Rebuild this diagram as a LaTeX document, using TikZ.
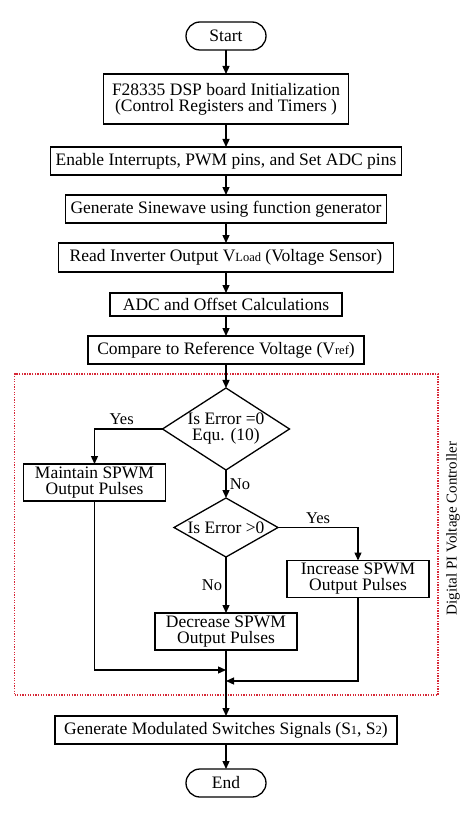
\documentclass[tikz,border=0pt]{standalone}
\usepackage{fontspec}
\setmainfont{Liberation Serif}
\usepackage{tikz}
\usetikzlibrary{arrows.meta, positioning, shapes.geometric, fit, calc}
\definecolor{CtrlRed}{RGB}{215, 40, 55}
\newcommand{\lowtxt}[1]{{\fontsize{12.5}{12}\selectfont #1}}
\tikzset{
  box/.style={rectangle, draw, line width=1.3pt, inner xsep=2pt, inner ysep=0.5pt, outer sep=0pt,
              minimum height=28pt, font=\fontsize{17.5}{16}\selectfont, align=center},
  term/.style={rectangle, rounded corners=14pt, draw, line width=1.3pt, inner ysep=0.5pt, outer sep=0pt,
               minimum width=80pt, minimum height=28pt, font=\fontsize{17.5}{16}\selectfont},
  decbox/.style={diamond, draw, line width=1.3pt, inner sep=-4pt, outer sep=0pt,
                 font=\fontsize{17.5}{16}\selectfont, align=center},
  arr/.style={-{Triangle[length=8pt, width=7pt]}, line width=1.3pt},
  lbl/.style={font=\fontsize{16.5}{16}\selectfont},
  grpbox/.style={rectangle, draw=#1, dash pattern=on 1.3pt off 1.3pt, line width=1.2pt},
}

\begin{document}
\begin{tikzpicture}
      \useasboundingbox (0,0) rectangle (474pt,-821pt);

      \node[term] (start) at (226pt,-36pt) {Start};
      \node[box, minimum width=245pt, minimum height=50pt, below=24pt of start] (init)
            {F28335 DSP board Initialization\\(Control Registers and Timers )};
      \node[box, minimum width=351pt, below=23pt of init] (enab)
            {Enable Interrupts, PWM pins, and Set ADC pins};
      \node[box, minimum width=321pt, below=20pt of enab] (sine)
            {Generate Sinewave using function generator};
      \node[box, minimum width=335pt, minimum height=29pt, below=20pt of sine] (read)
            {Read Inverter Output V\lowtxt{Load} (Voltage Sensor)};
      \node[box, minimum width=232pt, minimum height=23pt, below=21pt of read] (adc)
            {ADC and Offset Calculations};
      \node[box, minimum width=276pt, below=20pt of adc] (cmp)
            {Compare to Reference Voltage (V\lowtxt{ref})};

      % PI controller decisions
      \node[decbox, aspect=1.55, minimum width=127pt, minimum height=82pt,
            below=24pt of cmp] (err0) {Is Error =0\\Equ. (10)};
      \node[decbox, aspect=1.8, minimum width=104pt, minimum height=59pt,
            below=28pt of err0] (errp) {Is Error >0};
      \node[box, minimum width=142pt, minimum height=37pt,
            below left=35pt and -3pt of err0.west] (keep) {Maintain SPWM\\Output Pulses};
      \node[box, minimum width=142pt, minimum height=37pt,
            below right=33pt and 9pt of errp.east] (inc) {Increase SPWM\\Output Pulses};
      \node[box, minimum width=142pt, minimum height=37pt,
            below=56pt of errp] (decr) {Decrease SPWM\\Output Pulses};
      \coordinate (m1) at ($(decr.south)+(0,-20pt)$);
      \coordinate (m2) at ($(decr.south)+(0,-31pt)$);

      \node[box, minimum width=342pt, below=66pt of decr] (gen)
            {Generate Modulated Switches Signals (S\lowtxt{1}, S\lowtxt{2})};
      \node[term, below=25pt of gen] (end) {End};

      \node[grpbox=CtrlRed, inner xsep=9pt, inner ysep=14pt,
            fit=(err0.north) (keep.west) (inc.east) (m2)] (ctl) {};
      \node[rotate=90, anchor=north, font=\fontsize{15}{15}\selectfont]
            (ctlname) at ($(ctl.east)+(4pt,6pt)$) {Digital PI Voltage Controller};

      \draw[arr] (start) -- (init);
      \draw[arr] (init) -- (enab);
      \draw[arr] (enab) -- (sine);
      \draw[arr] (sine) -- (read);
      \draw[arr] (read) -- (adc);
      \draw[arr] (adc) -- (cmp);
      \draw[arr] (cmp) -- (err0);
      \draw[arr] (err0.west) -| node[lbl, pos=0.3, above] {Yes} (keep.north);
      \draw[arr] (err0) -- node[lbl, right] {No} (errp);
      \draw[arr] (errp.east) -| node[lbl, pos=0.25, above] {Yes} (inc.north);
      \draw[arr] (errp) -- node[lbl, left] {No} (decr);
      \draw[line width=1.3pt] (decr) -- (m1);
      \draw[arr] (keep.south) |- (m1);
      \draw[arr] (inc.south) |- (m2);
      \draw[arr] (m1) -- (gen);
      \draw[arr] (gen) -- (end);
    \end{tikzpicture}
\end{document}
